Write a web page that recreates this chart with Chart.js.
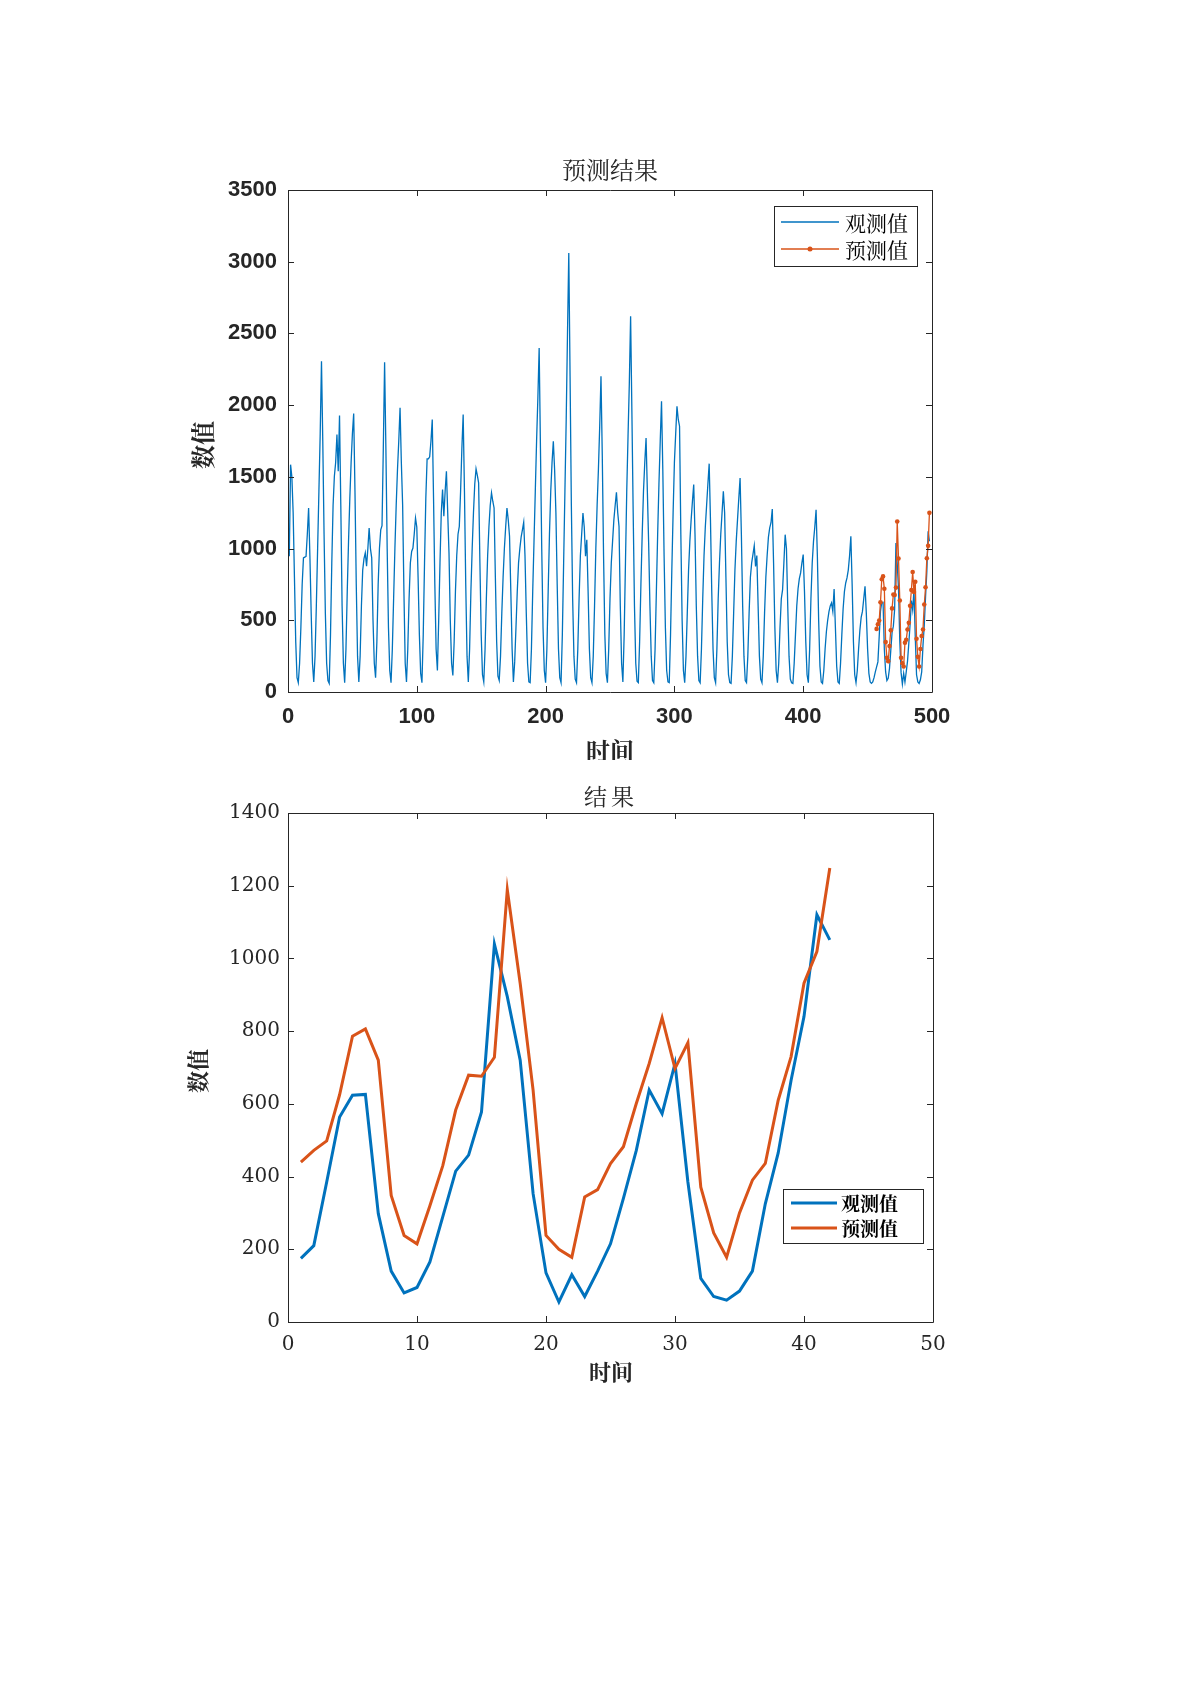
<!DOCTYPE html>
<html><head><meta charset="utf-8">
<script src="https://cdn.jsdelivr.net/npm/chart.js@4"></script>
<style>
html,body{margin:0;padding:0;background:#fff;width:1192px;height:1685px;overflow:hidden;}
canvas{position:absolute;left:0;}
#c1{top:0;}
#c2{top:760px;}
</style>
</head><body>
<canvas id="c1" width="1192" height="760"></canvas>
<canvas id="c2" width="1192" height="925"></canvas>
<script>
// ---- data ----
// observed history, time 1..456 (top chart, blue, before the test window)
const histObs = [
 947,1585,1500,1250,800,350,100,65,
 200,450,750,935,940,945,1100,1283,950,550,200,70,
 250,600,1000,1400,1800,2306,1750,1100,550,200,80,60,
 400,900,1300,1504,1600,1795,1539,1927,1300,600,200,65,
 300,700,1050,1350,1600,1800,1941,1400,750,250,70,
 250,600,850,930,970,877,1000,1144,1000,935,500,200,100,
 350,750,1000,1130,1160,1700,2299,1700,1000,450,150,65,
 300,650,1000,1300,1550,1750,1981,1600,1306,700,200,70,
 300,650,900,980,1004,1100,1213,1150,800,400,130,65,
 400,900,1350,1625,1625,1640,1750,1899,1350,750,300,150,
 500,900,1250,1411,1225,1400,1539,1250,970,500,200,115,
 350,700,950,1100,1155,1400,1700,1934,1400,750,250,70,
 300,700,1000,1250,1450,1556,1510,1458,900,400,120,70,
 300,650,950,1150,1300,1388,1330,1283,800,350,110,80,
 250,550,800,1000,1150,1283,1200,1086,700,300,70,210,
 450,700,900,1000,1080,1130,1183,950,550,200,70,65,
 300,700,1050,1400,1750,2050,2399,1700,1000,450,150,65,
 300,700,1100,1400,1600,1748,1550,1250,750,300,100,65,
 400,900,1400,1900,2500,3061,2200,1300,650,250,90,65,
 300,650,950,1100,1248,1150,946,1062,700,300,100,65,
 250,600,1000,1300,1550,1850,2201,1650,950,400,130,65,
 300,650,900,1050,1200,1300,1393,1250,1155,600,200,70,
 400,900,1400,1783,2150,2620,1950,1250,600,200,75,65,
 350,750,1100,1400,1600,1771,1400,1040,600,250,80,65,
 300,700,1100,1450,1750,2027,1550,950,450,150,70,65,
 400,850,1250,1600,1800,1992,1900,1853,1100,500,150,65,
 250,550,850,1050,1200,1330,1446,1100,600,250,80,65,
 300,650,950,1150,1300,1450,1592,1200,700,300,100,65,
 300,650,900,1100,1250,1399,1250,800,350,120,65,60,
 250,550,850,1050,1200,1350,1492,1100,600,250,80,65,
 250,550,800,900,960,1020,876,951,600,250,90,65,
 250,550,800,950,1080,1144,1180,1276,900,450,150,65,
 200,450,650,714,900,1097,1000,600,250,90,65,60,
 200,400,600,720,790,830,900,958,700,350,120,65,
 300,650,900,1050,1150,1271,950,500,180,70,60,
 150,300,420,500,560,600,621,562,718,450,180,70,60,
 200,400,580,700,760,795,850,950,1086,750,350,120,65,
 150,300,430,520,562,650,737,550,300,130,70,60,
 70,100,140
];
// test window (bottom chart), 42 points
const testObs = [175,210,385,564,624,626,298,140,80,95,165,290,415,459,578,1039,895,720,353,135,
 55,130,70,140,215,340,472,638,573,711,385,120,70,60,85,140,325,465,665,840,1120,1051];
const testPred = [440,472,498,625,786,806,720,348,238,215,320,430,583,679,676,728,1189,931,638,238,
 200,178,344,364,436,482,601,711,837,697,768,371,245,178,300,390,436,610,730,932,1019,1249];
const seriesNames = ['观测值','预测值'];
const topTitle = '预测结果', bottomTitle = '结果';
const xLabel = '时间', yLabel = '数值';

// ---- styles ----
const BLUE = '#0072BD', ORANGE = '#D95319', AX = '#262626';
const CJK = '"Noto Serif CJK SC","Noto Sans CJK SC",serif';
Chart.defaults.animation = false;
const plain = v => String(v);

function decoPlugin(cfg){
  return {
    id:'deco',
    afterDraw(chart){
      const {ctx, chartArea:a, scales:{x,y}} = chart;
      ctx.save();
      ctx.strokeStyle = AX; ctx.lineWidth = 1;
      const L = 6;
      ctx.beginPath();
      ctx.rect(Math.round(a.left)+0.5, Math.round(a.top)+0.5, Math.round(a.right-a.left), Math.round(a.bottom-a.top));
      x.ticks.forEach(t=>{
        const p = Math.round(x.getPixelForValue(t.value))+0.5;
        ctx.moveTo(p,a.bottom); ctx.lineTo(p,a.bottom-L);
        ctx.moveTo(p,a.top); ctx.lineTo(p,a.top+L);
      });
      y.ticks.forEach(t=>{
        const p = Math.round(y.getPixelForValue(t.value))+0.5;
        ctx.moveTo(a.left,p); ctx.lineTo(a.left+L,p);
        ctx.moveTo(a.right,p); ctx.lineTo(a.right-L,p);
      });
      ctx.stroke();
      // titles
      ctx.fillStyle = AX; ctx.textAlign='center'; ctx.textBaseline='middle';
      ctx.font = cfg.titleFont;
      if (cfg.titleSpacing) ctx.letterSpacing = cfg.titleSpacing;
      ctx.fillText(cfg.title, cfg.titlePos[0], cfg.titlePos[1]);
      ctx.letterSpacing = '0px';
      ctx.font = cfg.labelFont;
      ctx.fillText(xLabel, cfg.xLabelPos[0], cfg.xLabelPos[1]);
      ctx.save();
      ctx.translate(cfg.yLabelPos[0], cfg.yLabelPos[1]);
      ctx.rotate(-Math.PI/2);
      ctx.fillText(yLabel, 0, 0);
      ctx.restore();
      // legend
      const lg = cfg.legend;
      ctx.fillStyle = '#fff';
      ctx.fillRect(lg.box[0], lg.box[1], lg.box[2]-lg.box[0], lg.box[3]-lg.box[1]);
      ctx.strokeStyle = AX; ctx.lineWidth = 1;
      ctx.strokeRect(lg.box[0]+0.5, lg.box[1]+0.5, lg.box[2]-lg.box[0], lg.box[3]-lg.box[1]);
      const cols = [BLUE, ORANGE];
      seriesNames.forEach((nm,i)=>{
        const yy = lg.rows[i];
        ctx.strokeStyle = cols[i]; ctx.lineWidth = lg.lw;
        ctx.beginPath(); ctx.moveTo(lg.line[0], yy); ctx.lineTo(lg.line[1], yy); ctx.stroke();
        if (lg.dot && i===1){
          ctx.fillStyle = ORANGE; ctx.beginPath();
          ctx.arc((lg.line[0]+lg.line[1])/2, yy, 2.5, 0, Math.PI*2); ctx.fill();
        }
        ctx.fillStyle = '#000'; ctx.textAlign='left'; ctx.textBaseline='middle';
        ctx.font = lg.font;
        ctx.fillText(nm, lg.textX, yy+1);
      });
      ctx.restore();
    }
  };
}

// ---- top chart ----
const topObsAll = histObs.concat(testObs);
new Chart(document.getElementById('c1'), {
  type:'line',
  data:{datasets:[
    {label:seriesNames[0], data: topObsAll.map((v,i)=>({x:i+1,y:v})),
     borderColor:BLUE, borderWidth:1.3, pointRadius:0, order:1, tension:0},
    {label:seriesNames[1], data: testPred.map((v,i)=>({x:histObs.length+1+i,y:v})),
     borderColor:ORANGE, borderWidth:1.3, pointRadius:2.3, pointBackgroundColor:ORANGE,
     pointBorderWidth:0, order:0, tension:0}
  ]},
  options:{
    responsive:false, animation:false, events:[],
    layout:{padding:{left:198,right:260,top:190,bottom:28}},
    plugins:{legend:{display:false}, tooltip:{enabled:false}},
    scales:{
      x:{type:'linear', min:0, max:500,
         ticks:{stepSize:100, color:AX, padding:12, maxRotation:0, callback:plain,
                font:{family:'"Liberation Sans",Arial,sans-serif', size:22, weight:'bold'}},
         grid:{display:false, drawTicks:false}, border:{display:false},
         afterFit(s){ s.height = 40; }},
      y:{type:'linear', min:0, max:3500,
         ticks:{stepSize:500, color:AX, padding:11, callback:plain,
                font:{family:'"Liberation Sans",Arial,sans-serif', size:22, weight:'bold'}},
         grid:{display:false, drawTicks:false}, border:{display:false},
         afterFit(s){ s.width = 90; }}
    }
  },
  plugins:[decoPlugin({
    title:topTitle, titlePos:[610,170], titleFont:'24px '+CJK,
    labelFont:'bold 24px '+CJK, xLabelPos:[610,751], yLabelPos:[203,445],
    legend:{box:[774,206,917,266], rows:[222,249], line:[781,839], lw:1.3, dot:true,
            textX:845, font:'21px '+CJK}
  })]
});

// ---- bottom chart ----
new Chart(document.getElementById('c2'), {
  type:'line',
  data:{datasets:[
    {label:seriesNames[0], data: testObs.map((v,i)=>({x:i+1,y:v})),
     borderColor:BLUE, borderWidth:3, pointRadius:0, order:1, tension:0},
    {label:seriesNames[1], data: testPred.map((v,i)=>({x:i+1,y:v})),
     borderColor:ORANGE, borderWidth:3, pointRadius:0, order:0, tension:0}
  ]},
  options:{
    responsive:false, animation:false, events:[],
    layout:{padding:{left:198,right:259,top:53,bottom:323}},
    plugins:{legend:{display:false}, tooltip:{enabled:false}},
    scales:{
      x:{type:'linear', min:0, max:50,
         ticks:{stepSize:10, color:AX, padding:11, maxRotation:0, callback:plain,
                font:{family:'"DejaVu Serif",serif', size:20}},
         grid:{display:false, drawTicks:false}, border:{display:false},
         afterFit(s){ s.height = 40; }},
      y:{type:'linear', min:0, max:1400,
         ticks:{stepSize:200, color:AX, padding:8, callback:plain,
                font:{family:'"DejaVu Serif",serif', size:20}},
         grid:{display:false, drawTicks:false}, border:{display:false},
         afterFit(s){ s.width = 90; }}
    }
  },
  plugins:[decoPlugin({
    title:bottomTitle, titlePos:[611,36], titleFont:'23px '+CJK, titleSpacing:'4px',
    labelFont:'bold 22px '+CJK, xLabelPos:[611,612], yLabelPos:[198,311],
    legend:{box:[783,429,923,483], rows:[443,468], line:[791,837], lw:3, dot:false,
            textX:841, font:'bold 19px '+CJK}
  })]
});
</script>
</body></html>
